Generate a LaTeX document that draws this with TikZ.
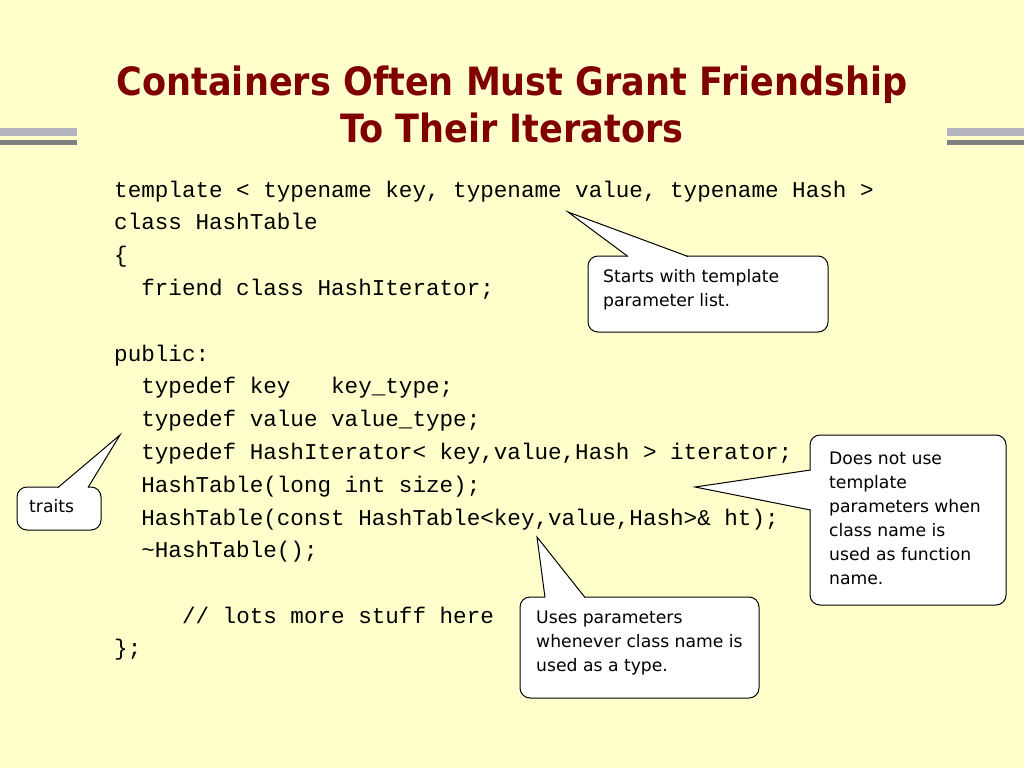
\documentclass[tikz,border=0pt]{standalone}
\usepackage{fontspec}
\setmainfont{DejaVu Sans}
\newfontfamily\codefont{Liberation Mono}
\newfontfamily\titlefont{DejaVu Sans Condensed}
\definecolor{bg}{HTML}{FFFFCC}
\definecolor{ttl}{HTML}{800000}
\definecolor{barA}{HTML}{B4B4BE}
\definecolor{barB}{HTML}{808080}
\begin{document}
\begin{tikzpicture}[x=1pt,y=-1pt,
  code/.style={anchor=base west,inner sep=0,font=\codefont\fontsize{22.6}{26}\selectfont},
  box/.style={draw=black,line width=1pt,fill=white,rounded corners=10,anchor=north west,inner sep=0},
  ctext/.style={anchor=north west,align=left,inner sep=0,font=\fontsize{17.2}{24}\selectfont},
  ptr/.style={fill=white,draw=none},
  ptrl/.style={draw=black,line width=1pt,line join=miter}]
\fill[bg] (0,0) rectangle (1024,768);
\useasboundingbox (0,0) rectangle (1024,768);
\fill[barA] (0,128) rectangle (77,136);
\fill[barB] (0,140) rectangle (77,145);
\fill[barA] (947,128) rectangle (1024,136);
\fill[barB] (947,140) rectangle (1024,145);
\node[font=\titlefont\bfseries\fontsize{39}{47}\selectfont,text=ttl,align=center] (title) at (512,104)
  {Containers Often Must Grant Friendship\\To Their Iterators};
% code
\foreach \t/\y [count=\i] in {
 {template < typename key, typename value, typename Hash >}/197,
 {class HashTable}/229,
 {\{}/262,
 {\ \ friend class HashIterator;}/295,
 {public:}/361,
 {\ \ typedef key\ \ \ key\_type;}/393,
 {\ \ typedef value value\_type;}/426,
 {\ \ typedef HashIterator< key,value,Hash > iterator;}/459,
 {\ \ HashTable(long int size);}/492,
 {\ \ HashTable(const HashTable<key,value,Hash>\& ht);}/525,
 {\ \ \textasciitilde HashTable();}/557,
 {\ \ \ \ \ // lots more stuff here}/623,
 {\};}/655}
 \node[code] (c\i) at (114,\y) {\t};
% callout 1
\draw[box] (588,256) rectangle (828,332);
\node[ctext] (t1) at (603,269) {Starts with template\\parameter list.};
\coordinate (p1) at (568,212);
\fill[ptr] (628,257) -- (p1) -- (688,257) -- cycle;
\draw[ptrl] (628,256.5) -- (p1) -- (688,256.5);
% callout 2 traits
\draw[box] (17,487) rectangle (101,530);
\node[ctext] (t2) at (29,499) {traits};
\coordinate (p2) at (120,435);
\fill[ptr] (58,488) -- (p2) -- (88,488) -- cycle;
\draw[ptrl] (58,487.5) -- (p2) -- (88,487.5);
% callout 3
\draw[box] (810,435) rectangle (1006,605);
\node[ctext] (t3) at (829,452) {Does not use\\template\\parameters when\\class name is\\used as function\\name.};
\coordinate (p3) at (695,487);
\fill[ptr] (811,470) -- (p3) -- (811,510) -- cycle;
\draw[ptrl] (810.5,470) -- (p3) -- (810.5,510);
% callout 4
\draw[box] (520,597) rectangle (759,698);
\node[ctext] (t4) at (536,611) {Uses parameters\\whenever class name is\\used as a type.};
\coordinate (p4) at (537,537);
\fill[ptr] (545,598) -- (p4) -- (585,598) -- cycle;
\draw[ptrl] (545,597.5) -- (p4) -- (585,597.5);
\end{tikzpicture}
\end{document}
